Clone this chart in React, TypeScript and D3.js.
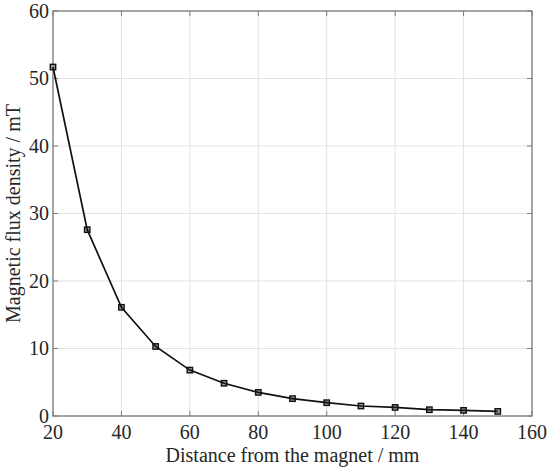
import React from "react"
import * as d3 from "d3"

const distances = [20, 30, 40, 50, 60, 70, 80, 90, 100, 110, 120, 130, 140, 150]
const fluxDensity = [51.7, 27.6, 16.1, 10.3, 6.8, 4.85, 3.5, 2.57, 1.97, 1.48, 1.27, 0.93, 0.83, 0.68]
const xTicks = [20, 40, 60, 80, 100, 120, 140, 160]
const yTicks = [0, 10, 20, 30, 40, 50, 60]

const WIDTH = 550
const HEIGHT = 471
const MARGIN = { top: 11, right: 18, bottom: 55, left: 53 }
const FONT = "'Liberation Serif', 'Times New Roman', serif"

export default function App() {
  const innerW = WIDTH - MARGIN.left - MARGIN.right
  const innerH = HEIGHT - MARGIN.top - MARGIN.bottom

  const x = d3.scaleLinear().domain([20, 160]).range([0, innerW])
  const y = d3.scaleLinear().domain([0, 60]).range([innerH, 0])

  const points = distances.map((d, i) => [d, fluxDensity[i]] as [number, number])
  const line = d3
    .line<[number, number]>()
    .x((d) => x(d[0]))
    .y((d) => y(d[1]))
    .curve(d3.curveLinear)

  const axisColor = "#7d7d7d"
  const gridColor = "#e3e3e3"
  const textColor = "#262626"
  const tickLen = 5
  const m = 2.7 // half marker size

  return (
    <svg
      width={WIDTH}
      height={HEIGHT}
      style={{ position: "fixed", left: 0, top: 0, background: "#fff" }}
      fontFamily={FONT}
    >
      <g transform={`translate(${MARGIN.left},${MARGIN.top})`}>
        {/* grid */}
        {xTicks.map((t) => (
          <line key={`gx${t}`} x1={x(t)} x2={x(t)} y1={0} y2={innerH} stroke={gridColor} strokeWidth={1} />
        ))}
        {yTicks.map((t) => (
          <line key={`gy${t}`} x1={0} x2={innerW} y1={y(t)} y2={y(t)} stroke={gridColor} strokeWidth={1} />
        ))}

        {/* ticks, inward on all four sides */}
        {xTicks.map((t) => (
          <g key={`tx${t}`} stroke={axisColor} strokeWidth={1}>
            <line x1={x(t)} x2={x(t)} y1={innerH} y2={innerH - tickLen} />
            <line x1={x(t)} x2={x(t)} y1={0} y2={tickLen} />
          </g>
        ))}
        {yTicks.map((t) => (
          <g key={`ty${t}`} stroke={axisColor} strokeWidth={1}>
            <line x1={0} x2={tickLen} y1={y(t)} y2={y(t)} />
            <line x1={innerW} x2={innerW - tickLen} y1={y(t)} y2={y(t)} />
          </g>
        ))}

        {/* box */}
        <rect x={0} y={0} width={innerW} height={innerH} fill="none" stroke={axisColor} strokeWidth={1.3} />

        {/* tick labels */}
        {xTicks.map((t) => (
          <text key={`lx${t}`} x={x(t)} y={innerH + 23} textAnchor="middle" fontSize={20} fill={textColor}>
            {t}
          </text>
        ))}
        {yTicks.map((t) => (
          <text
            key={`ly${t}`}
            x={-4}
            y={y(t)}
            dy="0.33em"
            textAnchor="end"
            fontSize={20}
            fill={textColor}
          >
            {t}
          </text>
        ))}

        {/* data markers, line drawn over them */}
        {points.map((p) => (
          <rect
            key={`m${p[0]}`}
            x={x(p[0]) - m}
            y={y(p[1]) - m}
            width={m * 2}
            height={m * 2}
            fill="#999"
            stroke="#111"
            strokeWidth={1.4}
          />
        ))}
        <path d={line(points) ?? ""} fill="none" stroke="#111" strokeWidth={1.7} />

        {/* axis titles */}
        <text x={innerW / 2} y={innerH + 46} textAnchor="middle" fontSize={20} fill={textColor}>
          Distance from the magnet / mm
        </text>
        <text
          transform={`translate(${-33},${innerH / 2}) rotate(-90)`}
          textAnchor="middle"
          fontSize={20}
          fill={textColor}
        >
          Magnetic flux density / mT
        </text>
      </g>
    </svg>
  )
}
